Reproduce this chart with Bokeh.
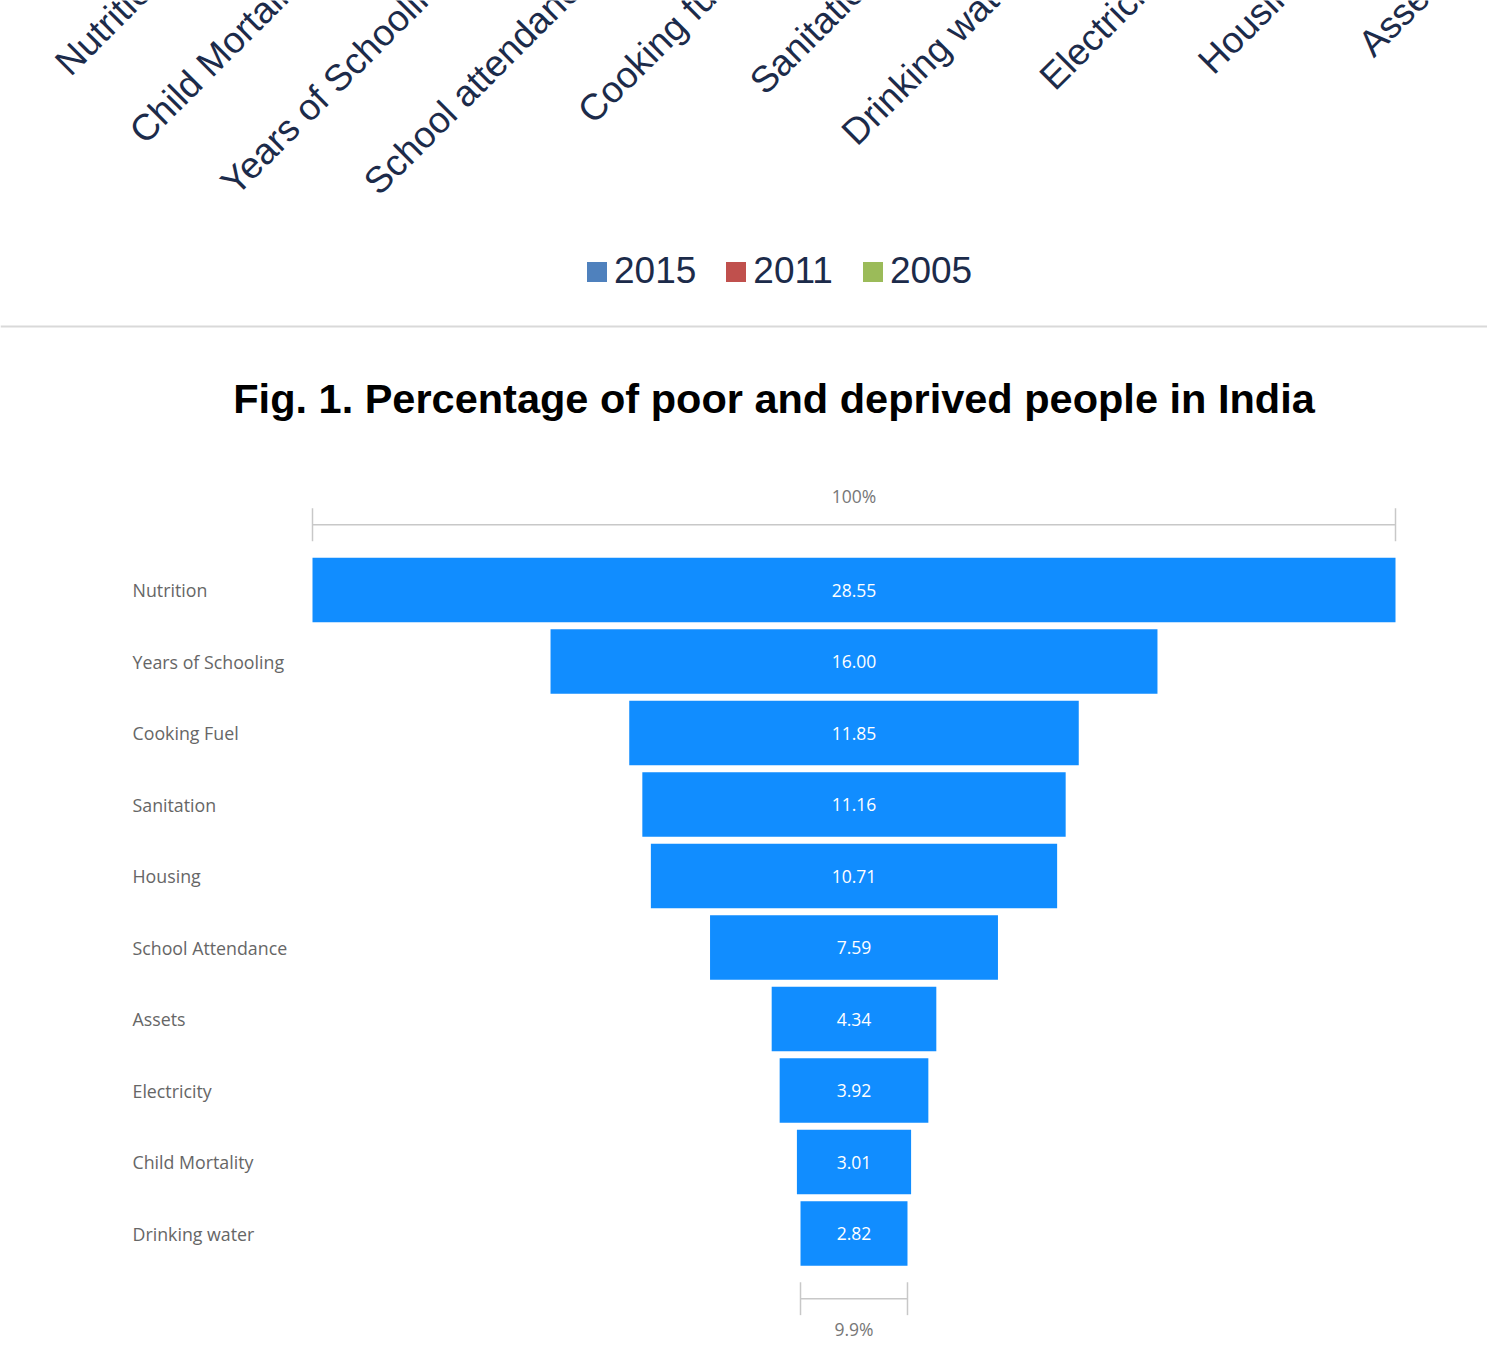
import math
from bokeh.plotting import figure
from bokeh.models import Range1d, ColumnDataSource, LabelSet, Legend, LegendItem, Span
from bokeh.layouts import column
from bokeh.embed import file_html
from bokeh.resources import INLINE
from bokeh.core.properties import value

# ---------------- data ----------------
top_categories = ["Nutrition", "Child Mortality", "Years of Schooling", "School attendance",
                  "Cooking fuel", "Sanitation", "Drinking water", "Electricity", "Housing", "Assets"]
legend_years = ["2015", "2011", "2005"]
legend_colors = ["#4f81bd", "#c0504d", "#9bbb59"]

funnel_categories = ["Nutrition", "Years of Schooling", "Cooking Fuel", "Sanitation", "Housing",
                     "School Attendance", "Assets", "Electricity", "Child Mortality", "Drinking water"]
funnel_values = [28.55, 16.00, 11.85, 11.16, 10.71, 7.59, 4.34, 3.92, 3.01, 2.82]

title_text = "Fig. 1. Percentage of poor and deprived people in India"

# ---------------- layout constants ----------------
W = 1487
TOP_H = 328
BOT_H = 1352 - TOP_H
NAVY = "#1c2b4a"

# ---------------- top (cropped clustered-bar chart axis + legend) ----------------
first_tick_px = 167.5
tick_step_px = 142.7
label_end_y = -20.5

top = figure(width=W, height=TOP_H, output_backend="svg", toolbar_location=None,
             x_range=Range1d(-first_tick_px / tick_step_px, (W - first_tick_px) / tick_step_px),
             y_range=Range1d(TOP_H, 0),
             x_axis_location=None, y_axis_location=None, min_border=0)
top.grid.visible = False
top.outline_line_color = None
top.background_fill_color = "white"
top.border_fill_color = "white"

n = len(top_categories)
lab_src = ColumnDataSource(dict(x=list(range(n)), y=[label_end_y] * n, text=top_categories))
labels = LabelSet(x="x", y="y", text="text", source=lab_src, angle=math.pi / 4,
                  text_align="right", text_baseline="alphabetic",
                  text_font=value("Liberation Sans"), text_font_size="37px", text_color=NAVY)
top.add_layout(labels)

# series of the (cropped-away) bar chart: bars lie above the visible crop, only the legend shows
nan = float("nan")
items = []
for yr, col in zip(legend_years, legend_colors):
    r = top.quad(left=[nan], right=[nan], top=[nan], bottom=[nan], fill_color=col, line_color=None)
    items.append(LegendItem(label=yr, renderers=[r]))
legend = Legend(items=items, orientation="horizontal", location=(584, 36),
                padding=0, margin=0, spacing=27, glyph_width=25, glyph_height=25,
                label_standoff=5, label_text_font="Liberation Sans", label_text_font_size="37px",
                label_text_color=NAVY, border_line_alpha=0, background_fill_alpha=0)
top.add_layout(legend)

top.add_layout(Span(location=326, dimension="width", line_color="#d9d9d9", line_width=2))

# ---------------- bottom (funnel) ----------------
center_px = 853.5
max_bar_px = 1083.0
row0_px = 589.5 - TOP_H
row_step_px = 71.5
scale = max_bar_px / max(funnel_values)

bot = figure(width=W, height=BOT_H, output_backend="svg", toolbar_location=None,
             x_range=Range1d(-center_px / scale, (W - center_px) / scale),
             y_range=Range1d((BOT_H - row0_px) / row_step_px, -row0_px / row_step_px),
             x_axis_location=None, y_axis_location=None, min_border=0)
bot.grid.visible = False
bot.outline_line_color = None
bot.background_fill_color = "white"
bot.border_fill_color = "white"

idx = list(range(len(funnel_values)))
src = ColumnDataSource(dict(
    y=idx,
    left=[-v / 2 for v in funnel_values],
    right=[v / 2 for v in funnel_values],
    mid=[0.0] * len(funnel_values),
    label=[f"{v:.2f}" for v in funnel_values],
    cat=funnel_categories,
    catx=[(132 - center_px) / scale] * len(funnel_values),
))
bot.hbar(y="y", left="left", right="right", height=0.902, source=src,
         fill_color="#118dff", line_color=None)
bot.text(x="mid", y="y", text="label", source=src, text_align="center", text_baseline="middle",
         text_font=value("Open Sans"), text_font_size="17.5px", text_color="white")
bot.text(x="catx", y="y", text="cat", source=src, text_align="left", text_baseline="middle",
         text_font=value("Open Sans"), text_font_size="17.8px", text_color="#666666")

# brackets (top: first bar width = 100%, bottom: last bar width relative to first)
first_v = funnel_values[0]
last_v = funnel_values[-1]
last_i = len(funnel_values) - 1
off = 0.912
tick = 0.23
bx0 = [-first_v / 2, -first_v / 2, first_v / 2, -last_v / 2, -last_v / 2, last_v / 2]
bx1 = [first_v / 2, -first_v / 2, first_v / 2, last_v / 2, -last_v / 2, last_v / 2]
by0 = [-off, -off - tick, -off - tick, last_i + off, last_i + off - tick, last_i + off - tick]
by1 = [-off, -off + tick, -off + tick, last_i + off, last_i + off + tick, last_i + off + tick]
bot.segment(x0=bx0, y0=by0, x1=bx1, y1=by1, line_color="#c8c8c8", line_width=1.5)
bot.text(x=[0, 0], y=[-1.31, last_i + 1.34],
         text=[f"{100 * first_v / first_v:.0f}%", f"{100 * last_v / first_v:.1f}%"],
         text_align="center", text_baseline="middle",
         text_font=value("Open Sans"), text_font_size="17.5px", text_color="#777777")

# title
title_x = (773.5 - center_px) / scale
title_y = (398 - TOP_H - row0_px) / row_step_px
bot.text(x=[title_x], y=[title_y], text=[title_text], text_align="center", text_baseline="middle",
         text_font=value("Liberation Sans"), text_font_style="bold", text_font_size="41.5px",
         text_color="black")

layout = column(top, bot, spacing=0)
open("out.html", "w").write(file_html(layout, INLINE))
